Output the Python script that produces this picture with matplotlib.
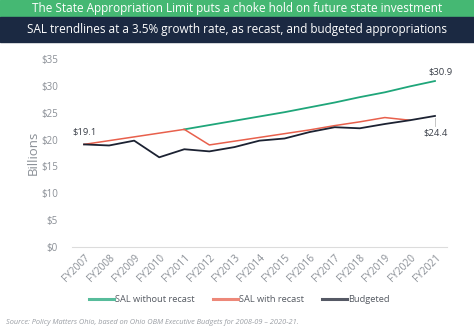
import matplotlib
matplotlib.use("Agg")
import matplotlib.pyplot as plt
from matplotlib.patches import Rectangle

plt.rcParams["font.family"] = ["Open Sans", "DejaVu Sans"]

# ── Data (billions of dollars) ────────────────────────────────────────────────
years = ["FY2007", "FY2008", "FY2009", "FY2010", "FY2011", "FY2012", "FY2013",
         "FY2014", "FY2015", "FY2016", "FY2017", "FY2018", "FY2019", "FY2020",
         "FY2021"]

# SAL without recast, FY2011 -> FY2021
sal_no_recast = [21.9, 22.7, 23.5, 24.3, 25.1, 26.0, 26.9, 27.9, 28.8, 29.9, 30.9]
# SAL with recast, FY2007 -> FY2020
sal_recast = [19.1, 19.8, 20.5, 21.2, 21.9, 19.0, 19.7, 20.4, 21.1, 21.8,
              22.6, 23.3, 24.1, 23.6]
# Budgeted appropriations, FY2007 -> FY2021
budgeted = [19.1, 18.9, 19.8, 16.7, 18.2, 17.8, 18.6, 19.8, 20.2, 21.4,
            22.3, 22.1, 22.9, 23.6, 24.4]

GREEN = "#1fa67a"
RED = "#e8604c"
NAVY = "#1c2232"
GREY = "#8a8f96"

fig = plt.figure(figsize=(4.74, 3.29), dpi=100)

# ── Header bars ───────────────────────────────────────────────────────────────
fig.patches.append(Rectangle((0, 1 - 16.5 / 329), 1, 16.5 / 329,
                             transform=fig.transFigure, color="#45b873", zorder=0))
fig.patches.append(Rectangle((0, 1 - 42 / 329), 1, 25 / 329,
                             transform=fig.transFigure, color="#1b2942", zorder=0))
fig.text(0.5, 1 - 8.5 / 329,
         "The State Appropriation Limit puts a choke hold on future state investment",
         color="white", fontsize=8.5, ha="center", va="center")
fig.text(0.5, 1 - 29.5 / 329,
         "SAL trendlines at a 3.5% growth rate, as recast, and budgeted appropriations",
         color="white", fontsize=8.5, ha="center", va="center")

# ── Main axes ─────────────────────────────────────────────────────────────────
ax = fig.add_axes([72 / 474, 1 - 247 / 329, 375 / 474, 188 / 329])
x = list(range(len(years)))

ax.plot(x[4:], sal_no_recast, color=GREEN, lw=1.3, label="SAL without recast")
ax.plot(x[:len(sal_recast)], sal_recast, color=RED, lw=1.1, label="SAL with recast")
ax.plot(x, budgeted, color=NAVY, lw=1.3, label="Budgeted")

ax.set_xlim(-0.48, len(years) - 1 + 0.48)
ax.set_ylim(0, 35)
ax.set_yticks(range(0, 36, 5))
ax.set_yticklabels([f"${v}" for v in range(0, 36, 5)])
ax.set_xticks(x)
ax.set_xticklabels(years, rotation=45, ha="right", rotation_mode="anchor")
ax.tick_params(axis="both", length=0, colors=GREY)
ax.tick_params(axis="x", pad=4, labelsize=7.3)
ax.tick_params(axis="y", pad=10, labelsize=7)
for s in ["top", "right", "left"]:
    ax.spines[s].set_visible(False)
ax.spines["bottom"].set_color("#dcdcdc")
ax.spines["bottom"].set_linewidth(0.8)
ax.set_ylabel("Billions", color=GREY, fontsize=9.5, labelpad=1)

# value labels
ax.annotate(f"${budgeted[0]}", (x[0], budgeted[0]), xytext=(-8, 7),
            textcoords="offset points", fontsize=6.8, color="#3a3f48")
ax.annotate(f"${sal_no_recast[-1]}", (x[-1], sal_no_recast[-1]), xytext=(-5, 5),
            textcoords="offset points", fontsize=6.8, color="#3a3f48")
ax.plot([x[-1], x[-1]], [budgeted[-1] - 0.4, budgeted[-1] - 1.8], color="#bbbbbb", lw=0.6)
ax.annotate(f"${budgeted[-1]}", (x[-1], budgeted[-1]), xytext=(-8, -14),
            textcoords="offset points", fontsize=6.8, color="#3a3f48")

leg = fig.legend(*ax.get_legend_handles_labels(), loc="center",
                 bbox_to_anchor=(0.505, 1 - 300 / 329), ncol=3, frameon=False,
                 fontsize=6.7, handlelength=2.7, handletextpad=0.05,
                 columnspacing=2.0, labelcolor="#555a62")
for h in leg.legend_handles:
    h.set_linewidth(2.2)
    h.set_alpha(0.75)

fig.text(0.012, 1 - 322 / 329,
         "Source: Policy Matters Ohio, based on Ohio OBM Executive Budgets for 2008-09 \u2013 2020-21.",
         fontsize=5.3, style="italic", color="#9a9ea4", ha="left", va="center")

fig.savefig("out.png", dpi=100)
